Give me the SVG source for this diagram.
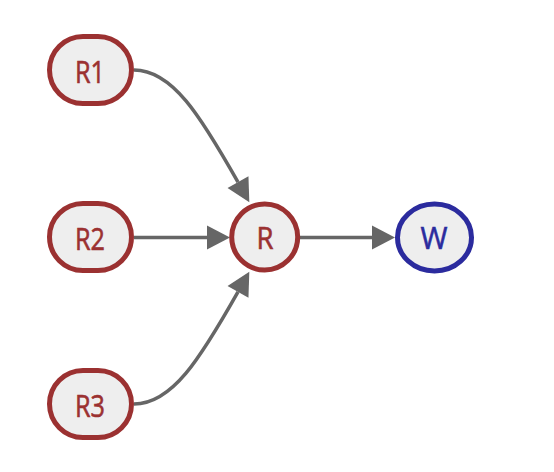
<svg xmlns="http://www.w3.org/2000/svg" width="554" height="472" viewBox="0 0 554 472">
  <style>
    .bg { fill: #ffffff; }
    .node { fill: #eeeeee; stroke-width: 5; }
    .red { stroke: #9b3131; }
    .blue { stroke: #2b2b9e; }
    .lbl { font-family: "Open Sans", "Lato", "Liberation Sans", sans-serif; font-size: 31px; text-anchor: middle; stroke-width: 0.6; }
    .lred { fill: #9b3131; stroke: #9b3131; }
    .lblue { fill: #2b2b9e; stroke: #2b2b9e; }
    .edge { fill: none; stroke: #666666; stroke-width: 3.5; }
  </style>
  <defs>
    <marker id="arrow" markerUnits="userSpaceOnUse" markerWidth="30" markerHeight="30" refX="0" refY="0" orient="auto" overflow="visible">
      <path d="M0,-12 L23,0 L0,12 z" fill="#666666"/>
    </marker>
  </defs>
  <rect class="bg" x="0" y="0" width="554" height="472"/>
  <g id="connectors">
    <path class="edge" d="M134,70 C172,70 200,115 238,182.2" marker-end="url(#arrow)"/>
    <path class="edge" d="M134,237.5 L207,237.5" marker-end="url(#arrow)"/>
    <path class="edge" d="M134,404 C172,404 200,359 238,291.8" marker-end="url(#arrow)"/>
    <path class="edge" d="M300,237.5 L372,237.5" marker-end="url(#arrow)"/>
  </g>
  <g id="R1">
    <rect class="node red" x="49.5" y="36.5" width="82" height="67" rx="33.5" ry="33.5"/>
    <text class="lbl lred" x="90" y="82.5" textLength="30" lengthAdjust="spacingAndGlyphs">R1</text>
  </g>
  <g id="R2">
    <rect class="node red" x="49.5" y="203.5" width="82" height="67" rx="33.5" ry="33.5"/>
    <text class="lbl lred" x="90" y="249.5" textLength="30" lengthAdjust="spacingAndGlyphs">R2</text>
  </g>
  <g id="R3">
    <rect class="node red" x="49.5" y="370.5" width="82" height="67" rx="33.5" ry="33.5"/>
    <text class="lbl lred" x="90" y="417" textLength="30" lengthAdjust="spacingAndGlyphs">R3</text>
  </g>
  <g id="R">
    <circle class="node red" cx="264.7" cy="237" r="33"/>
    <text class="lbl lred" x="265" y="248.5" textLength="17" lengthAdjust="spacingAndGlyphs">R</text>
  </g>
  <g id="W">
    <ellipse class="node blue" cx="434.5" cy="237.5" rx="37" ry="33.5"/>
    <text class="lbl lblue" x="434" y="248.5" textLength="27" lengthAdjust="spacingAndGlyphs">W</text>
  </g>
</svg>
